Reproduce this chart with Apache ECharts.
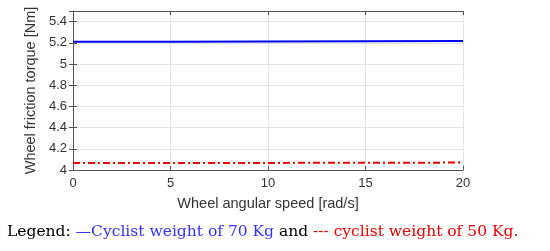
<!DOCTYPE html>
<html><head><meta charset="utf-8">
<script src="https://cdn.jsdelivr.net/npm/echarts@6/dist/echarts.min.js"></script>
<style>html,body{margin:0;padding:0;background:#fff}#c{width:550px;height:251px}</style>
</head><body><div id="c"></div>
<script>
var speeds = [0, 5, 10, 15, 20];
var torque70 = [5.21, 5.211, 5.212, 5.214, 5.217];
var torque50 = [4.065, 4.066, 4.067, 4.068, 4.07];
var xTitle = 'Wheel angular speed [rad/s]';
var yTitle = 'Wheel friction torque [Nm]';

var chart = echarts.init(document.getElementById('c'));
var axColor = '#555';
var lblColor = '#333';
function pairs(ys){ return speeds.map(function(x,i){return [x, ys[i]];}); }
chart.setOption({
  animation: false,
  grid: {left: 73, right: 87, top: 11, bottom: 81},
  xAxis: [{
    type: 'value', min: 0, max: 20, interval: 5,
    axisLine: {show: true, lineStyle: {color: axColor, width: 1}},
    axisTick: {show: true, inside: true, length: 4, lineStyle: {color: axColor}},
    axisLabel: {color: lblColor, fontFamily: 'Liberation Sans', fontSize: 13, margin: 7},
    splitLine: {show: true, lineStyle: {color: '#e3e3e3'}},
    name: xTitle, nameLocation: 'middle', nameGap: 26,
    nameTextStyle: {color: lblColor, fontFamily: 'Liberation Sans', fontSize: 14.5}
  }, {
    type: 'value', position: 'top', min: 0, max: 20, interval: 5,
    axisLine: {show: true, lineStyle: {color: axColor, width: 1}},
    axisTick: {show: true, inside: true, length: 4, lineStyle: {color: axColor}},
    axisLabel: {show: false}, splitLine: {show: false}
  }],
  yAxis: [{
    type: 'value', min: 4, max: 5.5, interval: 0.2,
    axisLine: {show: true, lineStyle: {color: axColor, width: 1}},
    axisTick: {show: true, inside: true, length: 4, lineStyle: {color: axColor}},
    axisLabel: {color: lblColor, fontFamily: 'Liberation Sans', fontSize: 13, margin: 6, showMaxLabel: false},
    splitLine: {show: true, lineStyle: {color: '#e3e3e3'}},
    name: yTitle, nameLocation: 'middle', nameGap: 27,
    nameTextStyle: {color: lblColor, fontFamily: 'Liberation Sans', fontSize: 14.5}
  }, {
    type: 'value', position: 'right', min: 4, max: 5.5, interval: 0.2,
    axisLine: {show: true, lineStyle: {color: axColor, width: 1}},
    axisTick: {show: true, inside: true, length: 4, lineStyle: {color: axColor}},
    axisLabel: {show: false}, splitLine: {show: false}
  }],
  series: [{
    type: 'line', name: '70 Kg', data: pairs(torque70), showSymbol: false,
    lineStyle: {color: '#0000ee', width: 2}
  }, {
    type: 'line', name: '50 Kg', data: pairs(torque50), showSymbol: false,
    lineStyle: {color: '#ee0000', width: 2, type: [7, 3, 2, 3]}
  }],
  graphic: [{
    type: 'text', left: 7, top: 224,
    style: {
      text: '{k|Legend: }{b|\u2014Cyclist weight of 70 Kg}{k| and }{r|--- cyclist weight of 50 Kg.}',
      rich: {
        k: {fill: '#000', fontFamily: 'DejaVu Serif', fontSize: 15.5},
        b: {fill: '#3333ff', fontFamily: 'DejaVu Serif', fontSize: 15.5},
        r: {fill: '#ee0000', fontFamily: 'DejaVu Serif', fontSize: 15.5}
      }
    }
  }]
});
</script></body></html>
